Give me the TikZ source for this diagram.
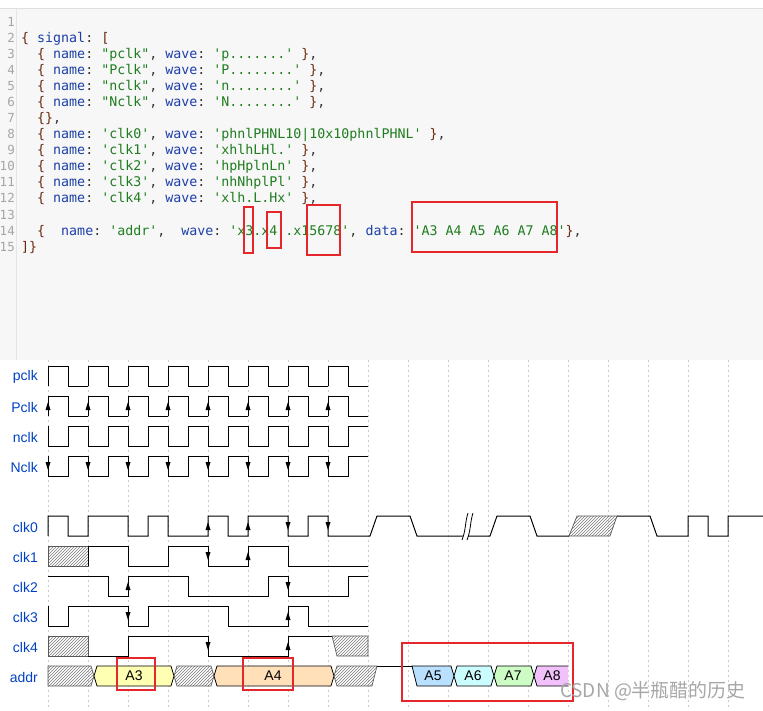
\documentclass[tikz,border=0pt]{standalone}
\usepackage{fontspec}
\setmainfont{Liberation Sans}
\setmonofont{DejaVu Sans Mono}
\newfontfamily\cjk{Noto Sans CJK SC}
\usetikzlibrary{patterns}
\definecolor{kw}{HTML}{1C3FA8}
\definecolor{st}{HTML}{1E7D1E}
\definecolor{br}{HTML}{6B2A10}
\definecolor{pu}{HTML}{333333}
\definecolor{lbl}{HTML}{0041C4}
\definecolor{redbox}{HTML}{E5262B}
\definecolor{dthree}{HTML}{FFFFB4}
\definecolor{dfour}{HTML}{FFE0B9}
\definecolor{dfive}{HTML}{B9E0FF}
\definecolor{dsix}{HTML}{CCFDFE}
\definecolor{dseven}{HTML}{CDFDC5}
\definecolor{deight}{HTML}{F0C1FB}
\newcommand\K[1]{\textcolor{kw}{#1}}
\newcommand\Sg[1]{\textcolor{st}{#1}}
\newcommand\B[1]{\textcolor{br}{#1}}
\newcommand\ua[2]{\fill (#1-2.5,#2+4)--(#1,#2-4)--(#1+2.5,#2+4)--cycle;}
\newcommand\da[2]{\fill (#1-2.5,#2-4)--(#1,#2+4)--(#1+2.5,#2-4)--cycle;}
\begin{document}
\begin{tikzpicture}[x=1pt,y=-1pt,
  code/.style={anchor=base west,inner sep=0pt,font=\ttfamily\fontsize{13.3}{13.3}\selectfont,text=pu},
  lno/.style={anchor=base east,inner sep=0pt,font=\ttfamily\fontsize{12.5}{12.5}\selectfont,text=gray!70},
  siglbl/.style={anchor=east,inner sep=0pt,font=\fontsize{14}{14}\selectfont,text=lbl},
  wv/.style={line width=1pt,black,line join=miter},
  hatch/.style={pattern=north east lines,pattern color=gray!95!black,draw=black!65,line width=0.7pt},
  dlab/.style={inner sep=0pt,font=\fontsize{14}{14}\selectfont},
  rbox/.style={draw=redbox,line width=1.8pt},
  grid/.style={gray!40,line width=0.8pt,dash pattern=on 2pt off 3pt}]
\useasboundingbox (0,0) rectangle (763,711);
\clip (0,0) rectangle (763,711);
% code area
\fill[gray!6] (0,8) rectangle (763,360);
\draw[gray!25,line width=1pt] (0,8.5) -- (763,8.5);
\draw[gray!20,line width=0.8pt] (16,9) -- (16,360);
\foreach \i in {1,...,15}{
  \node[lno] (ln\i) at (15,{21.7+16.07*(\i-1)+4.5}) {\i};
}
\def\cy#1{{21.7+16.07*(#1-1)+4.5}}
\node[code] (c2) at (21,\cy{2}) {\B{\{}~\K{signal}:~\B{[}};
\node[code] (c3) at (21,\cy{3}) {~~\B{\{}~\K{name}:~\Sg{"pclk"},~\K{wave}:~\Sg{'p.......'}~\B{\}},};
\node[code] (c4) at (21,\cy{4}) {~~\B{\{}~\K{name}:~\Sg{"Pclk"},~\K{wave}:~\Sg{'P........'}~\B{\}},};
\node[code] (c5) at (21,\cy{5}) {~~\B{\{}~\K{name}:~\Sg{"nclk"},~\K{wave}:~\Sg{'n........'}~\B{\}},};
\node[code] (c6) at (21,\cy{6}) {~~\B{\{}~\K{name}:~\Sg{"Nclk"},~\K{wave}:~\Sg{'N........'}~\B{\}},};
\node[code] (c7) at (21,\cy{7}) {~~\B{\{\}},};
\node[code] (c8) at (21,\cy{8}) {~~\B{\{}~\K{name}:~\Sg{'clk0'},~\K{wave}:~\Sg{'phnlPHNL10|10x10phnlPHNL'}~\B{\}},};
\node[code] (c9) at (21,\cy{9}) {~~\B{\{}~\K{name}:~\Sg{'clk1'},~\K{wave}:~\Sg{'xhlhLHl.'}~\B{\}},};
\node[code] (c10) at (21,\cy{10}) {~~\B{\{}~\K{name}:~\Sg{'clk2'},~\K{wave}:~\Sg{'hpHplnLn'}~\B{\}},};
\node[code] (c11) at (21,\cy{11}) {~~\B{\{}~\K{name}:~\Sg{'clk3'},~\K{wave}:~\Sg{'nhNhplPl'}~\B{\}},};
\node[code] (c12) at (21,\cy{12}) {~~\B{\{}~\K{name}:~\Sg{'clk4'},~\K{wave}:~\Sg{'xlh.L.Hx'}~\B{\}},};
\node[code] (c14) at (21,\cy{14}) {~~\B{\{}~~\K{name}:~\Sg{'addr'},~~\K{wave}:~\Sg{'x3.x4..x15678'},~\K{data}:~\Sg{'A3 A4 A5 A6 A7 A8'}\B{\}},};
\node[code] (c15) at (21,\cy{15}) {\B{]\}}};
% code red boxes
\draw[rbox] (244,207) rectangle (253,253);
\draw[rbox] (267,212) rectangle (281,248);
\draw[rbox] (307,205) rectangle (340,255);
\draw[rbox] (412,202) rectangle (557,252);
% grid
\foreach \k in {0,...,18}{ \draw[grid] ({48+40*\k},360) -- ({48+40*\k},708); }
% labels
\node[siglbl] (lp) at (38,377) {pclk};
\node[siglbl] (lP) at (38,407) {Pclk};
\node[siglbl] (ln) at (38,437) {nclk};
\node[siglbl] (lN) at (38,467) {Nclk};
\node[siglbl] (l0) at (38,527) {clk0};
\node[siglbl] (l1) at (38,557) {clk1};
\node[siglbl] (l2) at (38,587) {clk2};
\node[siglbl] (l3) at (38,617) {clk3};
\node[siglbl] (l4) at (38,647) {clk4};
\node[siglbl] (la) at (38,677) {addr};
% clocks
\foreach \k in {0,...,7}{
  \pgfmathsetmacro\xx{48+40*\k}
  \draw[wv] (\xx,386)--(\xx,366)--(\xx+20,366)--(\xx+20,386)--(\xx+40,386);
  \draw[wv] (\xx,416)--(\xx,396)--(\xx+20,396)--(\xx+20,416)--(\xx+40,416);
  \ua{\xx}{406}
  \draw[wv] (\xx,426)--(\xx,446)--(\xx+20,446)--(\xx+20,426)--(\xx+40,426);
  \draw[wv] (\xx,456)--(\xx,476)--(\xx+20,476)--(\xx+20,456)--(\xx+40,456);
  \da{\xx}{466}
}
% clk0
\draw[wv] (48,536)--(48,516)--(68,516)--(68,536)--(88,536)--(88,516)--(128,516)--(128,536)--(148,536)--(148,516)--(168,516)--(168,536)--(208,536)--(208,516)--(228,516)--(228,536)--(248,536)--(248,516)--(288,516)--(288,536)--(308,536)--(308,516)--(328,516)--(328,536)--(370,536)--(377,516)--(410,516)--(417,536)--(490,536)--(497,516)--(530,516)--(537,536)--(569,536);
\draw[hatch] (569,536)--(577,516)--(617,516)--(610,536)--cycle;
\draw[wv] (617,516)--(650,516)--(657,536)--(688,536)--(688,516)--(708,516)--(708,536)--(728,536)--(728,516)--(770,516);
\fill[white] (462,540)--(468,513)--(473,513)--(467,540)--cycle;
\draw[line width=0.8pt] (462,540) .. controls (466,530) and (465,522) .. (468,513);
\draw[line width=0.8pt] (467,540) .. controls (471,530) and (470,522) .. (473,513);
\ua{208}{526} \ua{248}{526} \da{288}{526} \da{328}{526}
% clk1
\draw[hatch] (48,546) rectangle (88,566);
\draw[wv] (88,566)--(88,546)--(128,546)--(128,566)--(168,566)--(168,546)--(208,546)--(208,566)--(248,566)--(248,546)--(288,546)--(288,566)--(368,566);
\da{208}{556} \ua{248}{556}
% clk2
\draw[wv] (48,576)--(108,576)--(108,596)--(128,596)--(128,576)--(188,576)--(188,596)--(268,596)--(268,576)--(288,576)--(288,596)--(348,596)--(348,576)--(368,576);
\ua{128}{586} \da{288}{586}
% clk3
\draw[wv] (48,606)--(48,626)--(68,626)--(68,606)--(128,606)--(128,626)--(148,626)--(148,606)--(228,606)--(228,626)--(288,626)--(288,606)--(308,606)--(308,626)--(368,626);
\da{128}{616} \ua{288}{616}
% clk4
\draw[hatch] (48,636) rectangle (88,656);
\draw[wv] (88,656)--(128,656)--(128,636)--(208,636)--(208,656)--(288,656)--(288,636)--(332,636);
\draw[hatch] (332,636)--(368,636)--(368,656)--(337,656)--cycle;
\da{208}{646} \ua{288}{646}
% addr
\draw[hatch] (48,666)--(91,666)--(94,676)--(91,686)--(48,686)--cycle;
\draw[fill=dthree,line width=0.8pt] (94,676)--(97,666)--(171,666)--(174,676)--(171,686)--(97,686)--cycle;
\draw[hatch] (174,676)--(177,666)--(211,666)--(214,676)--(211,686)--(177,686)--cycle;
\draw[fill=dfour,line width=0.8pt] (214,676)--(217,666)--(331,666)--(334,676)--(331,686)--(217,686)--cycle;
\draw[hatch] (334,676)--(337,666)--(377,666)--(372,686)--(337,686)--cycle;
\draw[wv] (377,666)--(412,666);
\draw[fill=dfive,line width=0.8pt] (412,666)--(451,666)--(454,676)--(451,686)--(417,686)--cycle;
\draw[fill=dsix,line width=0.8pt] (454,676)--(457,666)--(491,666)--(494,676)--(491,686)--(457,686)--cycle;
\draw[fill=dseven,line width=0.8pt] (494,676)--(497,666)--(531,666)--(534,676)--(531,686)--(497,686)--cycle;
\fill[deight] (534,676)--(537,666)--(568,666)--(568,686)--(537,686)--cycle;
\draw[line width=0.8pt] (568,666)--(537,666)--(534,676)--(537,686)--(568,686);
\node[dlab] (a3) at (134,676) {A3};
\node[dlab] (a4) at (273,676) {A4};
\node[dlab] (a5) at (433,676) {A5};
\node[dlab] (a6) at (473,676) {A6};
\node[dlab] (a7) at (513,676) {A7};
\node[dlab] (a8) at (552,676) {A8};
% red boxes
\draw[rbox] (117,658) rectangle (155,690);
\draw[rbox] (243,658) rectangle (293,690);
\draw[rbox] (402,643) rectangle (573,701);
% watermark
\node[inner sep=0pt,text=gray!70,font=\cjk\fontsize{19}{19}\selectfont] (wm) at (653,691) {CSDN @半瓶醋的历史};
\end{tikzpicture}
\end{document}
